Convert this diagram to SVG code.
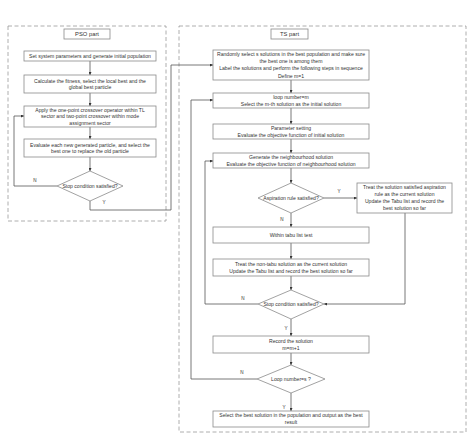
<svg xmlns="http://www.w3.org/2000/svg" width="474" height="440" viewBox="0 0 474 440">
<style>
.bg{fill:#fff}
.b{fill:#fff;stroke:#8a8a8a;stroke-width:0.8}
.d{fill:none;stroke:#9a9a9a;stroke-width:0.8;stroke-dasharray:4 2.5}
.c{fill:none;stroke:#555;stroke-width:0.8}
.a{marker-end:url(#ah)}
text{font-family:"Liberation Sans",Arial,sans-serif;font-size:5.1px;fill:#333;text-anchor:middle}
.t{font-size:5.8px}
.l{font-size:4.6px}
</style>
<defs>
<marker id="ah" viewBox="0 0 6 6" refX="6" refY="3" markerWidth="3" markerHeight="3" markerUnits="userSpaceOnUse" orient="auto">
<path d="M0,0 L6,3 L0,6 z" fill="#333"/>
</marker>
</defs>
<rect class="bg" x="0" y="0" width="474" height="440"/>

<g id="pso-frame">
<rect class="d" x="8" y="26" width="158" height="195"/>
<rect class="b" x="64" y="29" width="46" height="10"/>
<text class="t" x="87" y="36">PSO part</text>
</g>
<g id="ts-frame">
<rect class="d" x="179" y="26" width="287" height="406"/>
<rect class="b" x="271" y="29" width="37" height="10"/>
<text class="t" x="289.5" y="36">TS part</text>
</g>

<g id="connectors">
<path class="c a" d="M90,61 V75"/>
<path class="c a" d="M90,93 V106"/>
<path class="c a" d="M90,127 V139"/>
<path class="c a" d="M90,157 V171"/>
<path class="c a" d="M57,186 H14 V116 H24"/>
<path class="c a" d="M90,201 V210 H171 V65 H213"/>
<path class="c a" d="M291,80 V93"/>
<path class="c a" d="M291,108 V124"/>
<path class="c a" d="M291,139 V153"/>
<path class="c a" d="M291,168 V183"/>
<path class="c a" d="M324,198 H357"/>
<path class="c a" d="M291,213 V227"/>
<path class="c a" d="M291,243 V259"/>
<path class="c a" d="M291,276 V290"/>
<path class="c a" d="M405,213 V304 H324"/>
<path class="c a" d="M258,304 H205 V161 H213"/>
<path class="c a" d="M291,319 V336"/>
<path class="c a" d="M291,353 V365"/>
<path class="c a" d="M257,379 H191 V100 H213"/>
<path class="c a" d="M291,393 V411"/>
<text class="l" x="35" y="182">N</text>
<text class="l" x="104" y="204">Y</text>
<text class="l" x="339" y="193">Y</text>
<text class="l" x="282" y="221">N</text>
<text class="l" x="243" y="300">N</text>
<text class="l" x="286" y="330">Y</text>
<text class="l" x="242" y="374">N</text>
<text class="l" x="284" y="409">Y</text>
</g>

<g id="p1">
<rect class="b" x="24" y="51" width="132" height="10"/>
<text x="90" y="57.8">Set system parameters and generate initial population</text>
</g>
<g id="p2">
<rect class="b" x="24" y="75" width="132" height="18"/>
<text x="90" y="82.5">Calculate the fitness, select the local best and the</text>
<text x="90" y="89.2">global best particle</text>
</g>
<g id="p3">
<rect class="b" x="24" y="106" width="132" height="21"/>
<text x="90" y="111.6">Apply the one-point crossover operator within TL</text>
<text x="90" y="118.2">sector and two-point crossover within mode</text>
<text x="90" y="124.8">assignment sector</text>
</g>
<g id="p4">
<rect class="b" x="24" y="139" width="132" height="18"/>
<text x="90" y="146.5">Evaluate each new generated particle, and select the</text>
<text x="90" y="153.2">best one to replace the old particle</text>
</g>
<g id="p5">
<polygon class="b" points="90,171 123,186 90,201 57,186"/>
<text x="90" y="187.8">Stop condition satisfied?</text>
</g>

<g id="t1">
<rect class="b" x="213" y="50" width="156" height="30"/>
<text x="291" y="56">Randomly select s solutions in the best population and make sure</text>
<text x="291" y="63.2">the best one is among them</text>
<text x="291" y="70.4">Label the solutions and perform the following steps in sequence</text>
<text x="291" y="77.6">Define m=1</text>
</g>
<g id="t2">
<rect class="b" x="213" y="93" width="156" height="15"/>
<text x="291" y="99.2">loop number=m</text>
<text x="291" y="105.6">Select the m-th solution as the initial solution</text>
</g>
<g id="t3">
<rect class="b" x="213" y="124" width="156" height="15"/>
<text x="291" y="130.2">Parameter setting</text>
<text x="291" y="136.6">Evaluate the objective function of initial solution</text>
</g>
<g id="t4">
<rect class="b" x="213" y="153" width="156" height="15"/>
<text x="291" y="159.2">Generate the neighbourhood solution</text>
<text x="291" y="165.6">Evaluate the objective function of neighbourhood solution</text>
</g>
<g id="t5">
<polygon class="b" points="291,183 324,198 291,213 258,198"/>
<text x="291" y="199.8">Aspiration rule satisfied?</text>
</g>
<g id="t6">
<rect class="b" x="357" y="183" width="95" height="30"/>
<text x="404.5" y="189.2">Treat the solution satisfied aspiration</text>
<text x="404.5" y="196.2">rule as the current solution</text>
<text x="404.5" y="203.2">Update the Tabu list and record the</text>
<text x="404.5" y="210.2">best solution so far</text>
</g>
<g id="t7">
<rect class="b" x="213" y="227" width="156" height="16"/>
<text x="291" y="236.8">Within tabu list test</text>
</g>
<g id="t8">
<rect class="b" x="213" y="259" width="156" height="17"/>
<text x="291" y="265.8">Treat the non-tabu solution as the current solution</text>
<text x="291" y="272.6">Update the Tabu list and record the best solution so far</text>
</g>
<g id="t9">
<polygon class="b" points="291,290 324,304 291,319 258,304"/>
<text x="291" y="305.8">Stop condition satisfied?</text>
</g>
<g id="t10">
<rect class="b" x="213" y="336" width="156" height="17"/>
<text x="291" y="343.3">Record the solution</text>
<text x="291" y="349.9">m=m+1</text>
</g>
<g id="t11">
<polygon class="b" points="291,365 325,379 291,393 257,379"/>
<text x="291" y="380.8">Loop number=s ?</text>
</g>
<g id="t12">
<rect class="b" x="213" y="411" width="156" height="16"/>
<text x="291" y="417.2">Select the best solution in the population and output as the best</text>
<text x="291" y="424.2">result</text>
</g>
</svg>
